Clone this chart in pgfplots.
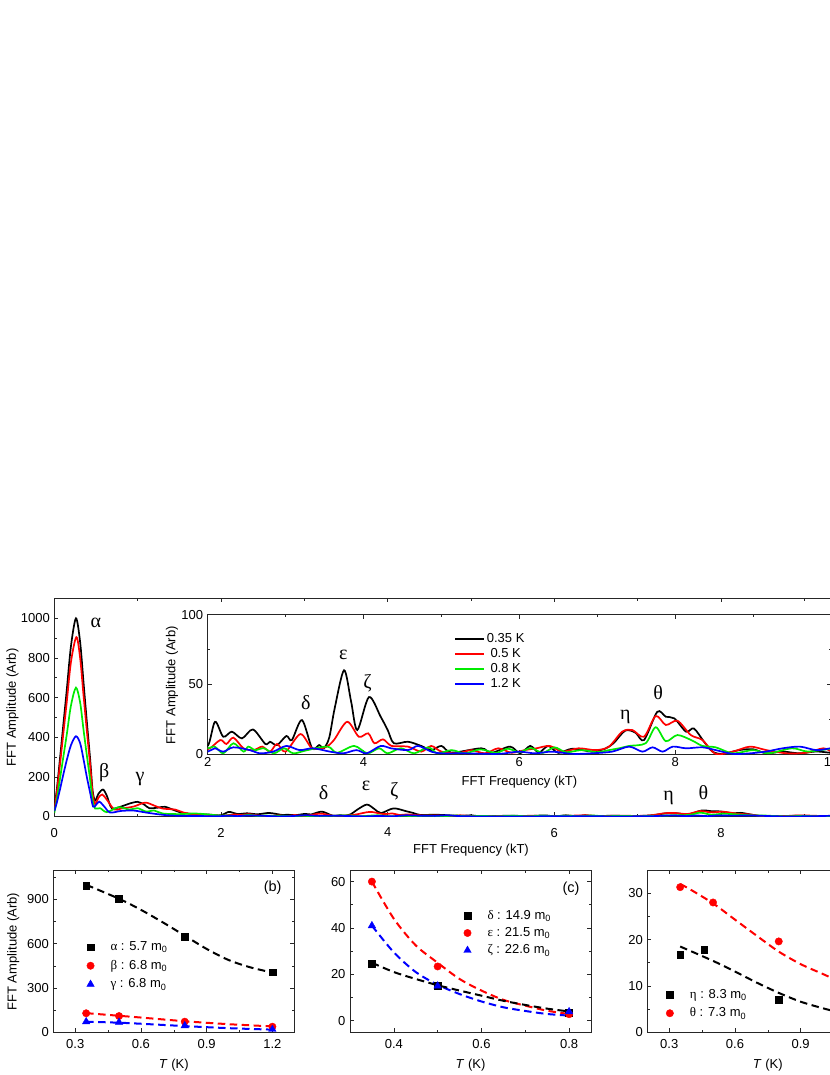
\documentclass[border=0pt]{standalone}
\usepackage{fontspec}
\setmainfont{Liberation Sans}
\newfontfamily\grk{Liberation Serif}
\usepackage{pgfplots}
\usepackage{pgfplotstable}
\pgfplotsset{compat=1.18}
\definecolor{cgreen}{RGB}{0,235,0}
\definecolor{cred}{RGB}{255,0,0}
\definecolor{cblue}{RGB}{0,0,255}

\pgfplotstableread{
x y
0 40
0.03 135
0.07 300
0.11 470
0.15 640
0.2 860
0.26 1000
0.31 880
0.35 680
0.39 480
0.43 290
0.46 130
0.49 80
0.53 115
0.585 136
0.63 105
0.69 42
0.8 50
0.9 65
1.0 74
1.08 60
1.14 42
1.25 45
1.33 49
1.45 30
1.55 17
1.7 12
1.85 10
2.0 6
2.094 23.3
2.2 12.6
2.31 16.2
2.44 11.4
2.58 17.8
2.74 7.4
2.80 9
2.89 6.6
3.01 13.1
3.08 10.2
3.21 24.5
3.34 4.3
3.43 6.6
3.49 4.3
3.56 12
3.63 33
3.75 60.2
3.84 38
3.92 17.4
4.07 41
4.22 26.9
4.31 17.4
4.39 7.9
4.57 9
4.74 6
4.87 3
5.0 6
5.13 1.2
5.51 4.3
5.64 1
5.88 5.5
6.01 0.7
6.14 6
6.25 1.2
6.37 6
6.5 1
6.68 4
6.93 2
7.1 4
7.21 8
7.36 17
7.49 15.5
7.6 10.2
7.77 30.4
7.88 26.9
7.99 25.7
8.14 16.2
8.24 18.5
8.37 9
8.48 1.9
8.61 0.3
8.82 3
9.0 3.6
9.17 0.7
9.38 1.9
9.6 0.7
9.81 2
10 1
}\tblack

\pgfplotstableread{
x y
0 30
0.03 120
0.07 270
0.11 425
0.15 580
0.2 780
0.265 905
0.31 800
0.35 615
0.39 435
0.43 260
0.46 115
0.49 62
0.53 95
0.575 111
0.63 85
0.72 35
0.8 40
0.95 50
1.09 70
1.2 55
1.3 40
1.45 35
1.55 20
1.7 10
1.85 8
2.0 3.6
2.16 10.2
2.24 7.4
2.33 11.9
2.46 4.3
2.59 3
2.70 5.5
2.80 1.9
2.89 7.4
3.0 1.9
3.19 14.5
3.34 4.3
3.51 5
3.62 10.2
3.79 23.3
3.94 12.6
4.06 15
4.14 7.9
4.25 10.7
4.36 6
4.57 5.5
4.74 1.9
4.87 6
5.0 1.9
5.21 0.7
5.38 3
5.56 0.7
5.73 4.3
5.9 1.1
6.07 3
6.22 4.3
6.39 6
6.55 1.9
6.76 4.3
6.98 3
7.15 5.5
7.32 16.2
7.45 17.4
7.6 12.6
7.75 27.4
7.88 21
8.03 24
8.2 13.8
8.35 10.2
8.52 0.3
8.74 1.9
8.96 5.5
9.17 3
9.43 0.7
9.68 1.1
9.9 4.3
10 1.9
}\tred

\pgfplotstableread{
x y
0 18
0.03 85
0.07 195
0.11 305
0.15 415
0.2 560
0.26 650
0.31 575
0.35 440
0.39 310
0.43 185
0.46 80
0.49 40
0.55 42
0.63 22
0.77 47
0.9 35
1.0 42
1.1 25
1.2 30
1.3 15
1.5 12
1.7 15
1.9 8
2.0 4.3
2.09 5.5
2.2 0.7
2.33 7.9
2.46 1.9
2.52 5.5
2.61 3
2.72 4.3
2.85 0.7
2.98 4.3
3.1 0.7
3.28 3
3.54 5.5
3.66 1.1
3.88 6
4.05 0.7
4.2 4.3
4.31 0.7
4.48 4.3
4.65 0.7
4.83 5
4.95 0.7
5.13 3
5.3 0.7
5.5 3.5
5.7 1
5.85 4
6.0 1.5
6.15 4.5
6.3 1
6.45 5
6.6 1.5
6.8 3
7.0 1.5
7.15 3
7.28 4.3
7.41 6
7.62 7.9
7.75 19.4
7.88 9.4
8.03 13.8
8.22 9.8
8.35 6
8.52 5
8.74 0.7
9.0 3
9.2 0.7
9.5 4.3
9.7 2
9.99 4
}\tgreen

\pgfplotstableread{
x y
0 27
0.03 70
0.07 140
0.11 215
0.15 285
0.2 360
0.26 405
0.31 370
0.35 290
0.39 200
0.43 120
0.465 50
0.5 58
0.54 75
0.6 50
0.67 20
0.8 28
0.95 30
1.1 20
1.27 10
1.4 5
1.6 3
1.8 2
2.0 1.9
2.09 4.3
2.2 1.9
2.33 5
2.54 3
2.67 0.7
2.84 1.9
3.01 6
3.18 3
3.35 4.3
3.57 1.9
3.74 0.7
3.91 3
4.04 0.7
4.22 6
4.35 4.3
4.57 3
4.7 6
4.87 1.9
5.0 0.7
5.3 0.7
5.73 0.3
5.99 1.9
6.2 0.7
6.42 1.9
6.68 0.3
6.93 0.7
7.19 1.9
7.41 5.5
7.58 1.9
7.71 5
7.84 1.9
7.97 5.5
8.14 4.3
8.35 5
8.52 3
8.74 0.3
8.96 0.7
9.17 2
9.38 4.3
9.6 5.5
9.81 3
9.99 4.3
}\tblue

\pgfplotsset{
  myax/.style={
    scale only axis,
    axis line style={black!85, line width=0.7bp},
    every tick/.style={black!85, line width=0.6bp},
    major tick length=4bp, minor tick length=2.5bp,
    /pgf/number format/assume math mode=true,
    /pgf/number format/1000 sep={},
    tick label style={font=\fontsize{13bp}{15bp}\selectfont},
    label style={font=\fontsize{13bp}{15bp}\selectfont},
  },
  spec/.style={line width=1.7bp, smooth, no marks},
  fitl/.style={line width=2bp, dash pattern=on 7.5bp off 4.5bp, no marks, smooth, forget plot},
  mklegend/.style={
    legend image code/.code={\path[draw=none,fill=none] (0bp,0bp) -- (23bp,0bp); \draw[##1] plot coordinates {(5bp,0bp)};},
    legend style={anchor=north west, draw=none, fill=none, inner sep=0pt,
      font=\fontsize{13bp}{15bp}\selectfont, row sep=3.5bp},
    legend cell align=left,
  },
}
\newcommand{\gl}[1]{{\grk\fontsize{20bp}{22bp}\selectfont #1}}
\newcommand{\gs}[1]{{\grk #1}}

\begin{document}
\fontsize{13bp}{15bp}\selectfont
\begin{tikzpicture}
\useasboundingbox (0,0) rectangle (830bp,1075bp);
\clip (0,0) rectangle (830bp,1075bp);

% main spectrum
\begin{axis}[myax, at={(54.3bp,258.5bp)}, anchor=south west, width=833.4bp, height=218bp,
  xmin=0, xmax=10, ymin=0, ymax=1100,
  xtick={0,2,...,10}, minor xtick={1,3,...,9},
  ytick={0,200,...,1000}, minor ytick={100,300,...,900},
  xlabel={FFT Frequency (kT)}, ylabel={FFT Amplitude (Arb)},
  xlabel style={at={(axis description cs:0.5,-0.154)}, anchor=center},
  ylabel style={at={(axis description cs:-0.05,0.5)}, anchor=center},
  xticklabel style={yshift=-7bp},
]
\addplot[spec, black] table {\tblack};
\addplot[spec, cred] table {\tred};
\addplot[spec, cgreen] table {\tgreen};
\addplot[spec, cblue] table {\tblue};
\node at (axis cs:0.50,975) {\gl{α}};
\node at (axis cs:0.60,220) {\gl{β}};
\node at (axis cs:1.03,188) {\gl{γ}};
\node at (axis cs:3.23,119) {\gl{δ}};
\node at (axis cs:3.74,155) {\gl{ε}};
\node at (axis cs:4.08,128) {\gl{ζ}};
\node at (axis cs:7.37,96) {\gl{η}};
\node at (axis cs:7.79,121) {\gl{θ}};
\end{axis}

% inset
\begin{axis}[myax, at={(207.7bp,320.7bp)}, anchor=south west, width=623.3bp, height=139.6bp,
  xmin=2, xmax=10, ymin=0, ymax=100,
  xtick={2,4,...,10}, minor xtick={3,5,...,9},
  ytick={0,50,100}, minor ytick={25,75},
  xlabel={FFT Frequency (kT)}, ylabel={FFT Amplitude (Arb)},
  xlabel style={at={(axis description cs:0.5,-0.203)}, anchor=center},
  ylabel style={at={(axis description cs:-0.0573,0.495)}, anchor=center},
  xticklabel style={yshift=1bp},
  legend image code/.code={\draw[#1, line width=1.8bp] (0bp,0bp) -- (29bp,0bp);},
  legend style={at={(0.395,0.879)}, anchor=north west, draw=none, fill=none, inner sep=0pt,
    font=\fontsize{13bp}{15bp}\selectfont, row sep=0bp},
  legend cell align=center,
]
\addplot[spec, black] table {\tblack};
\addplot[spec, cred] table {\tred};
\addplot[spec, cgreen] table {\tgreen};
\addplot[spec, cblue] table {\tblue};
\legend{0.35 K, 0.5 K, 0.8 K, 1.2 K}
\node at (axis cs:3.26,36.9) {\gl{δ}};
\node at (axis cs:3.74,70.9) {\gl{ε}};
\node at (axis cs:4.05,50.7) {\gl{ζ}};
\node at (axis cs:7.36,26.9) {\gl{η}};
\node at (axis cs:7.78,44) {\gl{θ}};
\end{axis}

% (b)
\begin{axis}[myax, mklegend, at={(53.3bp,42.7bp)}, anchor=south west, width=241bp, height=162.3bp,
  xmin=0.2, xmax=1.3, ymin=0, ymax=1100,
  xtick={0.3,0.6,0.9,1.2}, minor xtick={0.45,0.75,1.05},
  ytick={0,300,600,900}, minor ytick={150,450,750,1050},
  xlabel={\textit{T} (K)}, ylabel={FFT Amplitude (Arb)},
  xlabel style={at={(axis description cs:0.5,-0.2015)}, anchor=center},
  ylabel style={at={(axis description cs:-0.166,0.497)}, anchor=center},
  xticklabel style={yshift=-3bp},
  legend style={at={(0.133,0.571)}},
]
\addplot[only marks, mark=square*, mark size=3.4bp, black] coordinates {(0.35,996) (0.5,903) (0.8,648) (1.2,407)};
\addplot[only marks, mark=*, mark size=3.7bp, cred] coordinates {(0.35,129) (0.5,110) (0.8,72) (1.2,38)};
\addplot[only marks, mark=triangle*, mark size=4.3bp, cblue] coordinates {(0.35,72) (0.5,68) (0.8,45) (1.2,20)};
\addplot[fitl, black] coordinates {(0.35,1000) (0.5,905) (0.6,830) (0.7,745) (0.8,655) (0.9,565) (1.0,490) (1.1,440) (1.2,405)};
\addplot[fitl, cred] coordinates {(0.35,130) (0.5,112) (0.6,100) (0.8,75) (1.0,55) (1.2,40)};
\addplot[fitl, cblue] coordinates {(0.35,72) (0.5,65) (0.6,58) (0.8,42) (1.0,28) (1.2,18)};
\legend{\gs{α} : 5.7 m\textsubscript{0}, \gs{β} : 6.8 m\textsubscript{0}, \gs{γ} : 6.8 m\textsubscript{0}}
\node[font=\fontsize{14.5bp}{16bp}\selectfont] at (rel axis cs:0.910,0.891) {(b)};
\end{axis}

% (c)
\begin{axis}[myax, mklegend, at={(350bp,42.7bp)}, anchor=south west, width=241bp, height=162.3bp,
  xmin=0.3, xmax=0.85, ymin=-5, ymax=65,
  xtick={0.4,0.6,0.8}, minor xtick={0.5,0.7},
  ytick={0,20,40,60}, minor ytick={10,30,50},
  xlabel={\textit{T} (K)},
  xlabel style={at={(axis description cs:0.5,-0.2015)}, anchor=center},
  xticklabel style={yshift=-3bp},
  legend style={at={(0.466,0.766)}, row sep=2.3bp},
]
\addplot[only marks, mark=square*, mark size=3.4bp, black] coordinates {(0.35,24.7) (0.5,15.1) (0.8,3.5)};
\addplot[only marks, mark=*, mark size=3.7bp, cred] coordinates {(0.35,60) (0.5,23.4) (0.8,2.8)};
\addplot[only marks, mark=triangle*, mark size=4.3bp, cblue] coordinates {(0.35,41) (0.5,15) (0.8,3.9)};
\addplot[fitl, cred] coordinates {(0.35,60) (0.4,44) (0.45,32.5) (0.5,25) (0.55,18) (0.6,13) (0.65,9) (0.7,6.5) (0.75,4.3) (0.8,2.9)};
\addplot[fitl, cblue] coordinates {(0.35,41) (0.4,29.5) (0.45,21) (0.5,15.5) (0.55,11.5) (0.6,8.3) (0.65,5.8) (0.7,4.2) (0.75,2.9) (0.8,2.2)};
\addplot[fitl, black] coordinates {(0.35,25) (0.4,21) (0.45,18) (0.5,15.3) (0.55,13) (0.6,10.8) (0.65,8.6) (0.7,6.8) (0.75,5.2) (0.8,4)};
\legend{\gs{δ} : 14.9 m\textsubscript{0}, \gs{ε} : 21.5 m\textsubscript{0}, \gs{ζ} : 22.6 m\textsubscript{0}}
\node[font=\fontsize{14.5bp}{16bp}\selectfont] at (rel axis cs:0.917,0.887) {(c)};
\end{axis}

% (d)
\begin{axis}[myax, mklegend, at={(647.3bp,42.7bp)}, anchor=south west, width=241bp, height=162.3bp,
  xmin=0.2, xmax=1.3, ymin=0, ymax=35,
  xtick={0.3,0.6,0.9,1.2}, minor xtick={0.45,0.75,1.05},
  ytick={0,10,20,30}, minor ytick={5,15,25},
  xlabel={\textit{T} (K)},
  xlabel style={at={(axis description cs:0.5,-0.2015)}, anchor=center},
  xticklabel style={yshift=-3bp},
  legend style={at={(0.072,0.279)}},
]
\addplot[only marks, mark=square*, mark size=3.4bp, black] coordinates {(0.35,16.8) (0.46,17.8) (0.8,7.1)};
\addplot[only marks, mark=*, mark size=3.7bp, cred] coordinates {(0.35,31.3) (0.5,28) (0.8,19.6)};
\addplot[fitl, cred] coordinates {(0.35,32) (0.4,30.7) (0.5,27.8) (0.6,24.3) (0.7,20.8) (0.8,17.4) (0.9,14.7) (1.0,12.6) (1.1,10.5) (1.2,8.7)};
\addplot[fitl, black] coordinates {(0.35,18.5) (0.5,15.4) (0.6,13.1) (0.7,10.7) (0.8,8.5) (0.9,6.6) (1.0,5.2) (1.1,4) (1.2,3)};
\legend{\gs{η} : 8.3 m\textsubscript{0}, \gs{θ} : 7.3 m\textsubscript{0}}
\end{axis}
\end{tikzpicture}
\end{document}
